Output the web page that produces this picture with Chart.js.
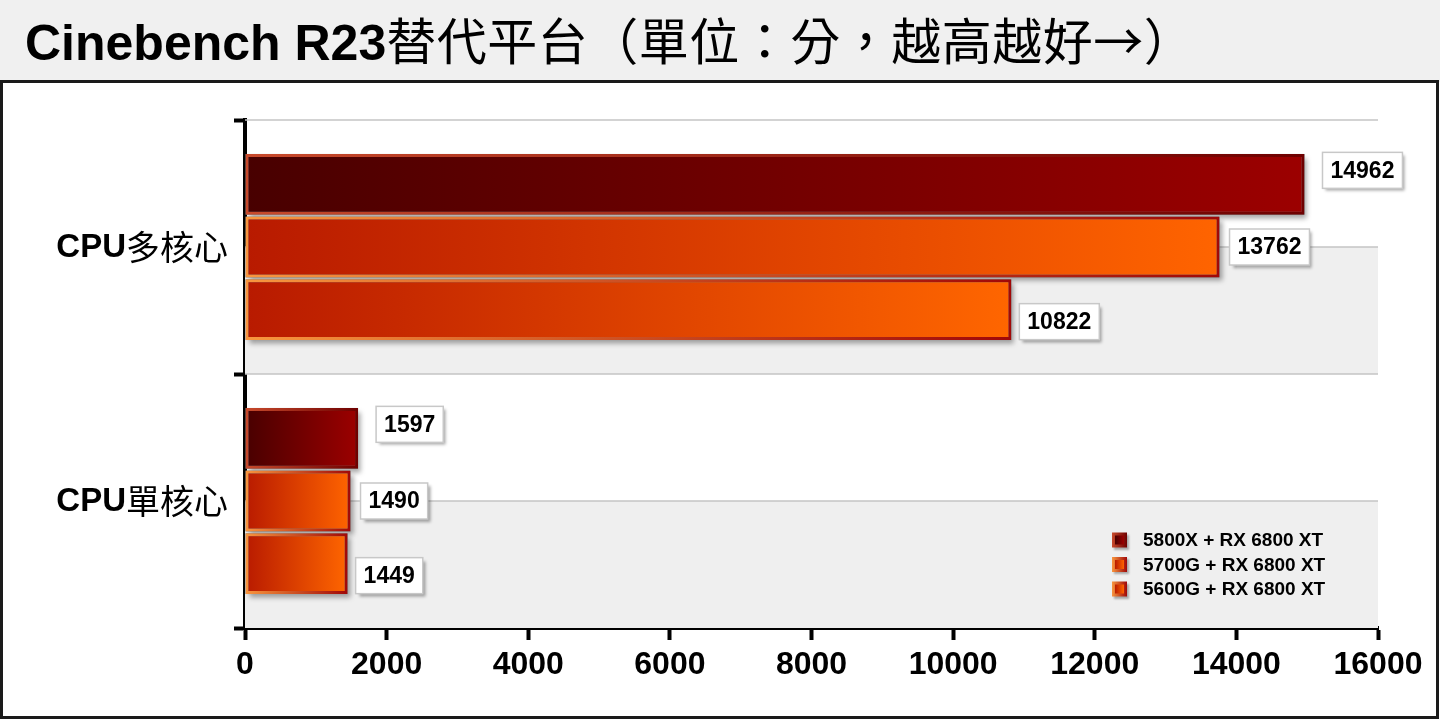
<!DOCTYPE html>
<html>
<head>
<meta charset="utf-8">
<script src="https://cdn.jsdelivr.net/npm/chart.js@4.4.1/dist/chart.umd.min.js"></script>
<style>
  html, body { margin: 0; padding: 0; background: #ffffff; }
  #wrap { position: relative; width: 1440px; height: 720px; overflow: hidden; }
  #title {
    position: absolute; left: 0; top: 0; width: 1440px; height: 82px;
    background: #f0f0f0; box-sizing: border-box; padding-left: 25px;
    font-family: 'Liberation Sans', 'Noto Sans CJK TC', sans-serif;
    font-size: 50px; line-height: 76px; color: #000; white-space: nowrap; z-index: 2;
  }
  #title b { font-weight: bold; }
  #title span { font-family: 'Noto Sans CJK TC', sans-serif; font-weight: normal; letter-spacing: 0.5px; }
  #frame {
    position: absolute; left: 0; top: 80px; width: 1439px; height: 639px;
    box-sizing: border-box; border: 3px solid #1a1a1a; z-index: 3; pointer-events: none;
  }
  #cv { position: absolute; left: 0; top: 0; }
</style>
</head>
<body>
<div id="wrap">
  <div id="title"><b>Cinebench R23</b><span>替代平台（單位：分，越高越好→）</span></div>
  <div id="frame"></div>
  <div style="position:absolute;left:0;top:0;width:1440px;height:720px;">
    <canvas id="cv"></canvas>
  </div>
</div>
<script>
// ---- data ----
const categories = ['CPU多核心', 'CPU單核心'];
const seriesLabels = ['5800X + RX 6800 XT', '5700G + RX 6800 XT', '5600G + RX 6800 XT'];
const score5800X = [14962, 1597];
const score5700G = [13762, 1490];
const score5600G = [10822, 1449];
const xTickValues = [0, 2000, 4000, 6000, 8000, 10000, 12000, 14000, 16000];

// ---- styles ----
const FONT = "'Liberation Sans', 'Noto Sans CJK TC', sans-serif";
const fills = [
  ['#480000', '#9c0000'],
  ['#b81a00', '#ff6400'],
  ['#b81a00', '#ff6600']
];
const borders = [
  ['#c84a2c', '#6e0000'],
  ['#f8963e', '#a00808'],
  ['#f8963e', '#a00808']
];

function barGradient(ctx, pair) {
  const chart = ctx.chart;
  if (!chart.chartArea || ctx.type !== 'data') return pair[1];
  const xs = chart.scales.x;
  const x0 = xs.getPixelForValue(0);
  const x1 = xs.getPixelForValue(ctx.raw);
  const g = chart.ctx.createLinearGradient(x0, 0, Math.max(x1, x0 + 1), 0);
  g.addColorStop(0, pair[0]);
  g.addColorStop(1, pair[1]);
  return g;
}

function makeDataset(i, values) {
  return {
    label: seriesLabels[i],
    data: values,
    backgroundColor: (c) => barGradient(c, fills[i]),
    borderColor: (c) => barGradient(c, borders[i]),
    borderWidth: 3,
    borderSkipped: false,
    categoryPercentage: 0.74,
    barPercentage: 0.97
  };
}

// background bands + grid lines
const bandPlugin = {
  id: 'bands',
  beforeDatasetsDraw(chart) {
    const { ctx, chartArea: a, scales: { y } } = chart;
    const half = Math.abs(y.getPixelForValue(1) - y.getPixelForValue(0)) / 2;
    ctx.save();
    categories.forEach((_, i) => {
      const c = y.getPixelForValue(i);
      ctx.fillStyle = '#efefef';
      ctx.fillRect(a.left, c, a.right - a.left, half);
      ctx.strokeStyle = '#c4c4c4';
      ctx.lineWidth = 1.5;
      [c - half, c].forEach(py => {
        ctx.beginPath();
        ctx.moveTo(a.left, py);
        ctx.lineTo(a.right, py);
        ctx.stroke();
      });
    });
    // bar shadows
    chart.data.datasets.forEach((ds, di) => {
      chart.getDatasetMeta(di).data.forEach(el => {
        const top = el.y - el.height / 2;
        const left = Math.min(el.base, el.x);
        const w = Math.abs(el.x - el.base);
        ctx.save();
        ctx.shadowColor = 'rgba(0,0,0,0.35)';
        ctx.shadowBlur = 5;
        ctx.shadowOffsetX = 3;
        ctx.shadowOffsetY = 4;
        ctx.fillStyle = 'rgba(120,120,120,1)';
        ctx.fillRect(left, top, w, el.height);
        ctx.restore();
      });
    });
    ctx.restore();
  }
};

// value labels
const labelOffsets = [ { dx: 18, dy: -14 }, { dx: 10, dy: 0 }, { dx: 8, dy: 12 } ];
const valuePlugin = {
  id: 'values',
  afterDatasetsDraw(chart) {
    const ctx = chart.ctx;
    ctx.save();
    ctx.font = 'bold 23px ' + FONT;
    ctx.textAlign = 'center';
    ctx.textBaseline = 'middle';
    chart.data.datasets.forEach((ds, di) => {
      chart.getDatasetMeta(di).data.forEach((el, k) => {
        const txt = String(ds.data[k]);
        const tw = ctx.measureText(txt).width;
        const bw = tw + 16, bh = 36;
        const bx = el.x + labelOffsets[di].dx;
        const by = el.y + labelOffsets[di].dy - bh / 2;
        ctx.save();
        ctx.shadowColor = 'rgba(0,0,0,0.35)';
        ctx.shadowBlur = 3;
        ctx.shadowOffsetX = 3;
        ctx.shadowOffsetY = 3;
        ctx.fillStyle = '#ffffff';
        ctx.fillRect(bx, by, bw, bh);
        ctx.restore();
        ctx.strokeStyle = '#c8c8c8';
        ctx.lineWidth = 1.5;
        ctx.strokeRect(bx, by, bw, bh);
        ctx.fillStyle = '#000';
        ctx.fillText(txt, bx + bw / 2, by + bh / 2 + 1);
      });
    });
    ctx.restore();
  }
};

// y labels (latin bold + CJK regular) and legend
const extrasPlugin = {
  id: 'extras',
  afterDraw(chart) {
    const { ctx, scales: { y } } = chart;
    ctx.save();
    ctx.textBaseline = 'middle';
    categories.forEach((lab, i) => {
      const m = lab.match(/^([\x00-\x7F]*)(.*)$/);
      const latin = m[1], cjk = m[2];
      const cy = y.getPixelForValue(i);
      const fLatin = 'bold 33px ' + FONT;
      const fCjk = "34px 'Noto Sans CJK TC', sans-serif";
      ctx.font = fLatin;
      const w1 = ctx.measureText(latin).width;
      ctx.font = fCjk;
      const w2 = ctx.measureText(cjk).width;
      const right = 228;
      ctx.fillStyle = '#000';
      ctx.textAlign = 'left';
      ctx.font = fLatin;
      ctx.fillText(latin, right - w1 - w2, cy + 1);
      ctx.font = fCjk;
      ctx.fillText(cjk, right - w2, cy);
    });
    // legend
    const lx = 1112, ly0 = 540, step = 24.5, sz = 15;
    chart.data.datasets.forEach((ds, di) => {
      const cy = ly0 + di * step;
      ctx.save();
      ctx.shadowColor = 'rgba(0,0,0,0.3)';
      ctx.shadowBlur = 2;
      ctx.shadowOffsetX = 2;
      ctx.shadowOffsetY = 2;
      const g = ctx.createLinearGradient(lx, 0, lx + sz, 0);
      g.addColorStop(0, borders[di][0]);
      g.addColorStop(1, borders[di][1]);
      ctx.fillStyle = g;
      ctx.fillRect(lx, cy - sz / 2, sz, sz);
      ctx.restore();
      const g2 = ctx.createLinearGradient(lx + 3, 0, lx + sz - 3, 0);
      g2.addColorStop(0, fills[di][0]);
      g2.addColorStop(1, fills[di][1]);
      ctx.fillStyle = g2;
      ctx.fillRect(lx + 3, cy - sz / 2 + 3, sz - 6, sz - 6);
      ctx.fillStyle = '#000';
      ctx.font = 'bold 19px ' + FONT;
      ctx.textAlign = 'left';
      ctx.fillText(ds.label, lx + 31, cy + 1);
    });
    ctx.restore();
  }
};

new Chart(document.getElementById('cv'), {
  type: 'bar',
  data: {
    labels: categories,
    datasets: [
      makeDataset(0, score5800X),
      makeDataset(1, score5700G),
      makeDataset(2, score5600G)
    ]
  },
  options: {
    indexAxis: 'y',
    responsive: true,
    maintainAspectRatio: false,
    animation: false,
    layout: { padding: { left: 0, right: 62, top: 120, bottom: 0 } },
    plugins: {
      legend: { display: false },
      tooltip: { enabled: false },
      title: { display: false }
    },
    scales: {
      x: {
        type: 'linear',
        min: xTickValues[0],
        max: xTickValues[xTickValues.length - 1],
        afterBuildTicks: (s) => { s.ticks = xTickValues.map(v => ({ value: v })); },
        afterFit: (s) => { s.height = 92; },
        border: { display: true, color: '#000', width: 4 },
        grid: { drawOnChartArea: false, drawTicks: true, tickLength: 12, tickColor: '#000', tickWidth: 4 },
        ticks: {
          color: '#000', font: { family: FONT, size: 32, weight: 'bold' }, padding: 6, maxRotation: 0,
          callback: (v) => String(v)
        }
      },
      y: {
        type: 'category',
        afterFit: (s) => { s.width = 245; },
        border: { display: true, color: '#000', width: 4 },
        grid: { drawOnChartArea: false, drawTicks: true, tickLength: 11, tickColor: '#000', tickWidth: 4, offset: true },
        ticks: { display: false }
      }
    }
  },
  plugins: [bandPlugin, valuePlugin, extrasPlugin]
});
</script>
</body>
</html>
